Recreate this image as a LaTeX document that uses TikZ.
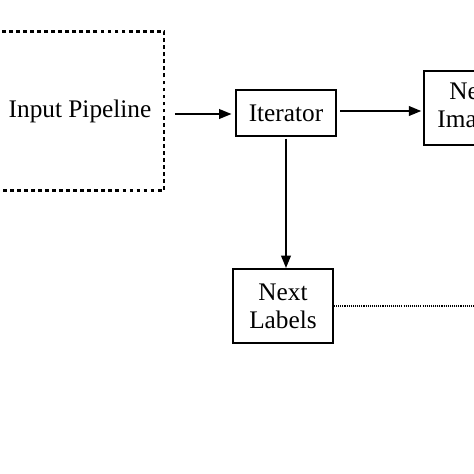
\documentclass[tikz,border=0pt]{standalone}
\usepackage{fontspec}
\setmainfont{Liberation Serif}
\usetikzlibrary{arrows.meta,positioning}
\tikzset{
  block/.style={draw=black,line width=1.1pt,minimum width=2cm,align=center,inner sep=0pt,font=\fontsize{14.4}{16}\selectfont},
  pipebox/.style={block,dash pattern=on 2.2pt off 1.8pt,line width=1.3pt,minimum width=3.36cm,minimum height=3.18cm},
  arrow/.style={-{Triangle[length=7pt,width=5.4pt]},line width=1.1pt,draw=black},
  dotline/.style={line width=0.7pt,dash pattern=on 0.6pt off 0.6pt,draw=black}
}
\begin{document}
\begin{tikzpicture}[x=0.02cm,y=-0.02cm]
  \clip (0,0) rectangle (474,474);
  \node[pipebox] (pipe) at (80,111) {Input Pipeline};
  \node[block,minimum height=0.92cm] (iter) at (286,113) {Iterator};
  \node[block,minimum height=1.48cm] (nimg) at (474,108) {Next\\Images};
  \node[block,minimum height=1.48cm] (nlab) at (283,306) {Next\\Labels};
  \coordinate (edge) at (480,306);
  \draw[arrow,shorten <=5.5pt,shorten >=2pt] (pipe.east |- 0,114) -- (iter.west |- 0,114);
  \draw[arrow,shorten <=2pt,shorten >=1pt] (iter.east |- 0,111) -- (nimg.west |- 0,111);
  \draw[arrow,shorten <=1pt] (iter.south -| 286,0) -- (nlab.north -| 286,0);
  \draw[dotline] (nlab.east) -- (edge);
\end{tikzpicture}
\end{document}
